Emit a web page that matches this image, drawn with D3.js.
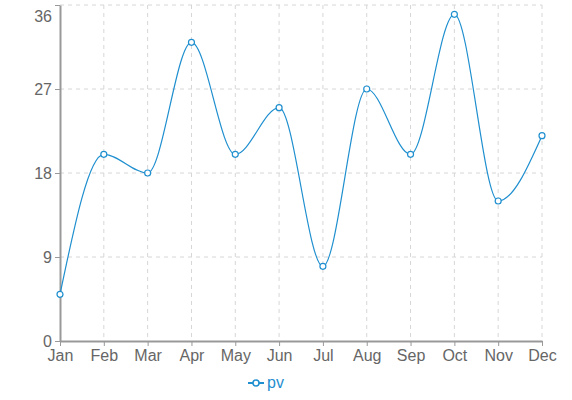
<!DOCTYPE html>
<head>
  <meta charset="utf-8">
  <style>
    body { margin: 0; background: #fff; overflow: hidden; }
    svg { display: block; }
    .axis text { fill: #666; font-family: 'Liberation Sans', Arial, sans-serif; font-size: 16px; }
    .axis path, .axis line { stroke: #999; }
  </style>
</head>
<body>
  <script src="https://cdn.jsdelivr.net/npm/d3@7"></script>
  <script>
    const width = 572;
    const height = 400;
    const margin = {top: 5, right: 30, bottom: 59, left: 60};
    const innerWidth = width - margin.left - margin.right;
    const innerHeight = height - margin.top - margin.bottom;

    const months = ["Jan", "Feb", "Mar", "Apr", "May", "Jun", "Jul", "Aug", "Sep", "Oct", "Nov", "Dec"];
    const pv = [5, 20, 18, 32, 20, 25, 8, 27, 20, 35, 15, 22];
    const yTicks = [0, 9, 18, 27, 36];
    const lineColor = "#1f8fcf";

    let svg = d3.select("body").append("svg")
      .attr("width", width)
      .attr("height", height)
      .append("g")
      .attr("transform", "translate(" + margin.left + "," + margin.top + ")");

    const xScale = d3.scalePoint().domain(months).range([0, innerWidth]);
    const yScale = d3.scaleLinear().domain([0, 36]).range([innerHeight, 0]);

    // grid
    svg.append("g").selectAll("line.v").data(months.slice(1)).enter().append("line")
      .attr("x1", d => xScale(d)).attr("x2", d => xScale(d))
      .attr("y1", 0).attr("y2", innerHeight)
      .attr("stroke", "#d6d6d6").attr("stroke-dasharray", "4,4");
    svg.append("g").selectAll("line.h").data(yTicks.slice(1)).enter().append("line")
      .attr("x1", 0).attr("x2", innerWidth)
      .attr("y1", d => yScale(d)).attr("y2", d => yScale(d))
      .attr("stroke", "#d6d6d6").attr("stroke-dasharray", "4,4");

    // axes
    svg.append("g").attr("class", "axis")
      .attr("transform", "translate(0," + innerHeight + ")")
      .call(d3.axisBottom(xScale).tickSize(5).tickSizeOuter(0).tickPadding(4))
      .select(".domain").attr("stroke-width", 2);
    const yAxisG = svg.append("g").attr("class", "axis")
      .call(d3.axisLeft(yScale).tickValues(yTicks).tickSize(5).tickSizeOuter(0).tickPadding(3));
    yAxisG.select(".domain").attr("stroke-width", 2);
    // keep top label inside the frame
    yAxisG.selectAll(".tick text").filter(d => d === 36).attr("dy", "1.0em");

    // line
    const line = d3.line()
      .x((d, i) => xScale(months[i]))
      .y(d => yScale(d))
      .curve(d3.curveMonotoneX);
    svg.append("path").datum(pv)
      .attr("d", line)
      .attr("fill", "none")
      .attr("stroke", lineColor)
      .attr("stroke-width", 1.2);
    svg.append("g").selectAll("circle").data(pv).enter().append("circle")
      .attr("cx", (d, i) => xScale(months[i]))
      .attr("cy", d => yScale(d))
      .attr("r", 3)
      .attr("fill", "#fff")
      .attr("stroke", lineColor)
      .attr("stroke-width", 1.2);

    // legend
    const legend = svg.append("g").attr("transform", "translate(" + (196) + "," + (383 - margin.top) + ")");
    legend.append("line").attr("x1", -8).attr("x2", 8).attr("stroke", lineColor).attr("stroke-width", 2);
    legend.append("circle").attr("r", 3).attr("fill", "#fff").attr("stroke", lineColor).attr("stroke-width", 1.5);
    legend.append("text").attr("x", 11).attr("y", 5)
      .attr("fill", lineColor)
      .style("font-family", "'Liberation Sans', Arial, sans-serif")
      .style("font-size", "16px")
      .text("pv");
  </script>
</body>
